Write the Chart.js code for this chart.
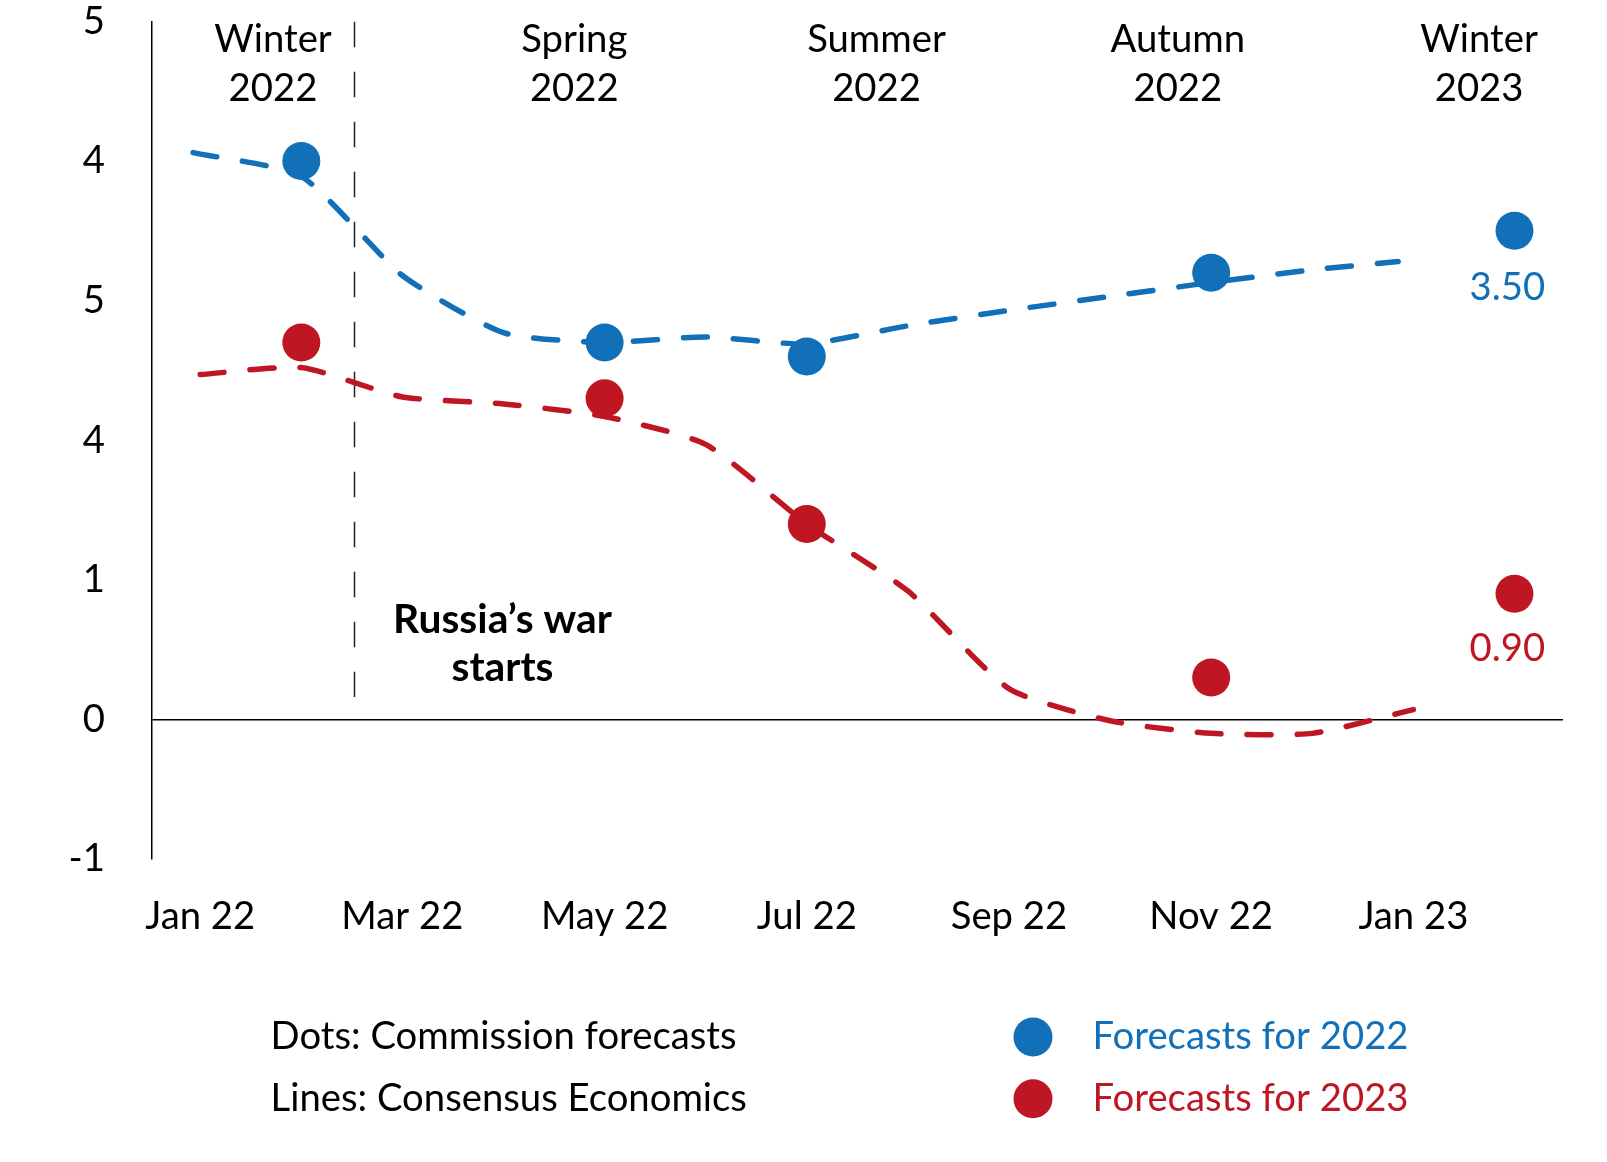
<!DOCTYPE html>
<html>
<head>
<meta charset="utf-8">
<script src="https://cdn.jsdelivr.net/npm/chart.js@4.4.1/dist/chart.umd.min.js"></script>
<style>
html,body{margin:0;padding:0;background:#fff;}
#wrap{width:1607px;height:1162px;position:relative;}
</style>
</head>
<body>
<div id="wrap"><canvas id="c"></canvas></div>
<script>
// ---------- data ----------
const monthLabels = ['Jan 22','Feb 22','Mar 22','Apr 22','May 22','Jun 22','Jul 22','Aug 22','Sep 22','Oct 22','Nov 22','Dec 22','Jan 23','Feb 23'];
const xTickMonths = [0, 2, 4, 6, 8, 10, 12];
const yTickValues = [-1, 0, 1, 2, 3, 4, 5];
const yTickLabels = ['-1', '0', '1', '4', '5', '4', '5'];
const seasonNames = ['Winter', 'Spring', 'Summer', 'Autumn', 'Winter'];
const seasonYears = ['2022', '2022', '2022', '2022', '2023'];
const forecastMonths = [1, 4, 6, 10, 13];
const commission2022 = [4.0, 2.7, 2.6, 3.2, 3.5];
const commission2023 = [2.7, 2.3, 1.4, 0.3, 0.9];
const consensus2022Months = [-0.07, 1, 2, 3, 4, 5, 6, 7, 8, 9, 10, 11, 11.85];
const consensus2022 = [4.06, 3.89, 3.18, 2.77, 2.70, 2.74, 2.69, 2.82, 2.93, 3.03, 3.13, 3.22, 3.28];
const consensus2023Months = [0, 1, 2, 3, 4, 5, 6, 7, 8, 9, 10, 11, 12];
const consensus2023 = [2.47, 2.52, 2.31, 2.26, 2.17, 1.97, 1.40, 0.92, 0.22, -0.01, -0.10, -0.10, 0.07];
const warStartMonth = 1.52;
const warText = ['Russia\u2019s war', 'starts'];
const legendLeft = ['Dots: Commission forecasts', 'Lines: Consensus Economics'];
const legendRight = ['Forecasts for 2022', 'Forecasts for 2023'];

// ---------- style ----------
const BLUE = '#1170b8';
const RED = '#be1622';
const FAM = 'Lato, "Open Sans", sans-serif';

const mctx = document.createElement('canvas').getContext('2d');
function fitSize(text, target, weight) {
  mctx.font = weight + ' 100px ' + FAM;
  return 100 * target / mctx.measureText(text).width;
}
const regSize = (fitSize('Forecasts for 2022', 310.5, 400) + fitSize('Dots: Commission forecasts', 474.5, 400)) / 2;
const boldSize = fitSize('Russia\u2019s war', 219, 700);

const pts = (xs, ys) => xs.map((m, i) => ({x: m, y: ys[i]}));

const annot = {
  id: 'annot',
  beforeDatasetsDraw(chart) {
    const {ctx, scales: {x, y}, chartArea} = chart;
    const px = Math.round(x.getPixelForValue(warStartMonth)) + 0.5;
    ctx.save();
    ctx.strokeStyle = '#222';
    ctx.lineWidth = 1.5;
    ctx.setLineDash([25.5, 24.5]);
    ctx.beginPath();
    ctx.moveTo(px, chartArea.top + 0.3);
    ctx.lineTo(px, y.getPixelForValue(0.16));
    ctx.stroke();
    ctx.restore();
  },
  afterDatasetsDraw(chart) {
    const {ctx, scales: {x, y}} = chart;
    ctx.save();
    ctx.textBaseline = 'middle';
    ctx.textAlign = 'center';
    ctx.fillStyle = '#000';
    ctx.font = '400 ' + regSize + 'px ' + FAM;
    const seasonPos = [0.72, 3.70, 6.69, 9.67, 12.65];
    seasonNames.forEach((s, i) => {
      const px = x.getPixelForValue(seasonPos[i]);
      ctx.fillText(s, px, 40);
      ctx.fillText(seasonYears[i], px, 89);
    });
    // war annotation
    ctx.font = '700 ' + boldSize + 'px ' + FAM;
    const wx = x.getPixelForValue(2.99);
    ctx.fillText(warText[0], wx, 620);
    ctx.fillText(warText[1], wx, 668);
    // value labels
    ctx.font = '400 ' + regSize + 'px ' + FAM;
    const last = forecastMonths.length - 1;
    const lx = x.getPixelForValue(12.93);
    ctx.fillStyle = BLUE;
    ctx.fillText(commission2022[last].toFixed(2), lx, y.getPixelForValue(commission2022[last]) + 57);
    ctx.fillStyle = RED;
    ctx.fillText(commission2023[last].toFixed(2), lx, y.getPixelForValue(commission2023[last]) + 55);
    // legend
    const rows = [1037, 1098.7];
    ctx.textAlign = 'left';
    [BLUE, RED].forEach((col, i) => {
      ctx.fillStyle = '#000';
      ctx.fillText(legendLeft[i], 270.6, rows[i]);
      ctx.fillStyle = col;
      ctx.beginPath();
      ctx.arc(1033, rows[i], 19.5, 0, Math.PI * 2);
      ctx.fill();
      ctx.fillText(legendRight[i], 1092.6, rows[i]);
    });
    ctx.restore();
  }
};

const xPad = 917 - 859 - 0.6 * regSize;

new Chart(document.getElementById('c'), {
  type: 'scatter',
  data: {
    datasets: [
      {label: 'Commission 2022', data: pts(forecastMonths, commission2022), showLine: false,
       pointRadius: 19, pointBackgroundColor: BLUE, pointBorderWidth: 0, order: 0},
      {label: 'Commission 2023', data: pts(forecastMonths, commission2023), showLine: false,
       pointRadius: 19, pointBackgroundColor: RED, pointBorderWidth: 0, order: 0},
      {label: 'Consensus 2022', data: pts(consensus2022Months, consensus2022), showLine: true,
       borderColor: BLUE, borderWidth: 5.5, borderDash: [24, 26], borderCapStyle: 'round',
       pointRadius: 0, tension: 0.2, order: 1},
      {label: 'Consensus 2023', data: pts(consensus2023Months, consensus2023), showLine: true,
       borderColor: RED, borderWidth: 5.5, borderDash: [24, 26], borderCapStyle: 'round',
       pointRadius: 0, tension: 0.2, order: 1}
    ]
  },
  options: {
    responsive: true,
    maintainAspectRatio: false,
    animation: false,
    events: [],
    layout: {padding: {top: 21.4, right: 44, bottom: 0, left: 0}},
    plugins: {legend: {display: false}, tooltip: {enabled: false}},
    scales: {
      x: {
        type: 'linear', min: -0.477, max: 13.48,
        grid: {display: false, drawTicks: false},
        border: {display: false},
        afterBuildTicks: a => { a.ticks = xTickMonths.map(v => ({value: v})); },
        ticks: {autoSkip: false, maxRotation: 0, minRotation: 0, padding: xPad, color: '#000',
                font: {size: regSize, lineHeight: 1.2, family: FAM},
                callback: v => monthLabels[v]},
        afterFit: s => { s.height = 303; }
      },
      y: {
        type: 'linear', min: -1, max: 5,
        afterBuildTicks: a => { a.ticks = yTickValues.map(v => ({value: v})); },
        ticks: {padding: 0, color: '#000', font: {size: regSize, lineHeight: 1, family: FAM},
                callback: v => yTickLabels[yTickValues.indexOf(v)]},
        grid: {drawTicks: true, tickLength: 47, tickColor: 'rgba(0,0,0,0)', lineWidth: 1.5,
               color: c => (c.tick && c.tick.value === 0) ? '#000' : 'rgba(0,0,0,0)'},
        border: {display: true, color: '#000', width: 1.5},
        afterFit: s => { s.width = 152; }
      }
    }
  },
  plugins: [annot]
});
</script>
</body>
</html>
